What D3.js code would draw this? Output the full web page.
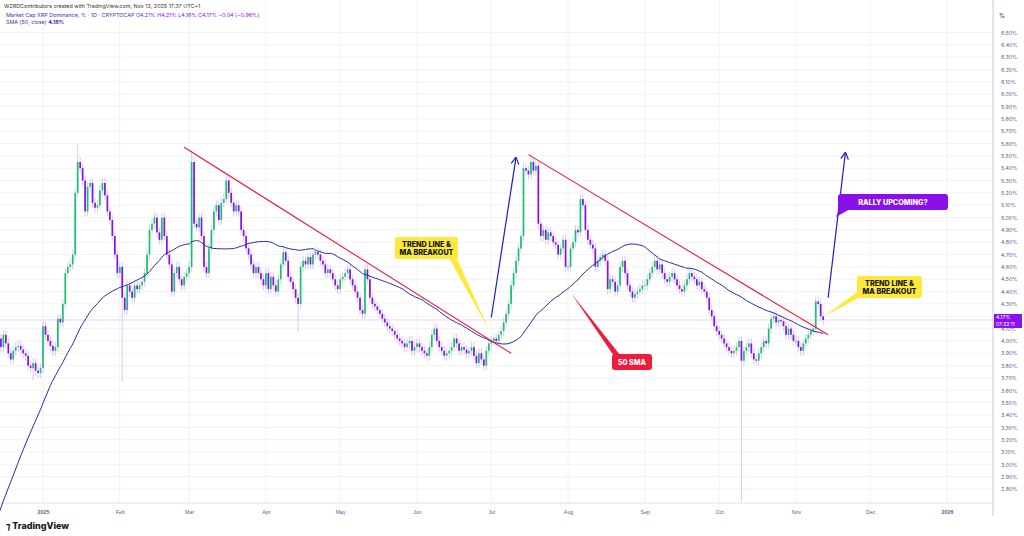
<!DOCTYPE html>
<html><head><meta charset="utf-8">
<script src="https://cdn.jsdelivr.net/npm/d3@7"></script>
<style>body{margin:0;background:#fff;font-family:Inter,"Noto Sans",sans-serif}</style>
</head><body><svg id="c" width="1024" height="536"></svg>
<script>
// ---- DATA ----
const startDate = "2024-12-14";
// 49 closes before startDate (seed for SMA 50)
const seedCloses = [1.28,1.30,1.27,1.32,1.30,1.33,1.35,1.32,1.36,1.38,1.42,1.40,1.45,1.48,1.50,1.47,1.52,1.55,1.58,1.62,1.60,
  1.90,2.10,2.25,2.40,2.55,2.50,2.70,2.85,2.95,3.10,3.20,3.35,3.45,3.60,3.55,3.70,3.85,3.95,4.10,4.05,
  4.20,4.30,4.40,4.35,4.25,4.15,4.10,4.05];
const closesDec = [4.02,3.95,4.05,3.98,3.90,3.85,3.92,3.95,3.96,3.93,3.90,3.88,3.80,3.78,3.82,3.76,3.74,3.78];
const closesJan = [4.12,4.05,4.00,3.96,3.92,3.95,4.18,4.15,4.30,4.55,4.60,4.62,4.70,5.20,5.45,5.40,5.30,5.05,5.25,5.28,5.12,5.08,5.10,5.22,5.28,5.18,5.05,4.98,4.85,4.70,4.55];
const closesFeb = [4.60,4.35,4.25,4.45,4.40,4.35,4.45,4.42,4.45,4.48,4.55,4.70,4.90,4.95,5.00,4.88,4.82,5.00,4.85,4.70,4.62,4.40,4.55,4.60,4.50,4.45,4.52,4.55];
const closesMar = [4.60,5.45,4.95,4.92,5.00,4.85,4.60,4.55,4.75,4.90,5.05,5.10,4.98,5.12,5.15,5.30,5.20,5.12,5.05,5.10,5.05,4.90,4.85,4.75,4.70,4.62,4.55,4.60,4.55,4.50,4.45];
const closesApr = [4.55,4.42,4.52,4.45,4.40,4.50,4.62,4.72,4.65,4.52,4.48,4.42,4.35,4.30,4.60,4.65,4.62,4.68,4.62,4.70,4.72,4.70,4.65,4.62,4.55,4.58,4.55,4.50,4.45,4.42];
const closesMay = [4.50,4.52,4.55,4.58,4.50,4.45,4.40,4.35,4.25,4.22,4.58,4.50,4.35,4.30,4.28,4.25,4.22,4.18,4.15,4.12,4.10,4.08,4.05,4.02,4.00,3.98,3.95,3.98,4.00,3.92,3.95];
const closesJun = [3.98,3.95,3.92,3.90,3.88,3.95,4.05,4.10,4.00,3.95,3.92,3.88,3.90,3.92,3.95,4.02,3.98,3.92,3.95,3.93,3.90,3.92,3.95,3.88,3.82,3.90,3.85,3.80,3.92,3.98];
const closesJul = [4.00,4.02,4.00,4.05,4.08,4.15,4.22,4.30,4.45,4.55,4.65,4.75,4.85,5.40,5.38,5.35,5.45,5.38,5.42,4.95,4.85,4.90,4.82,4.88,4.85,4.80,4.78,4.70,4.75,4.82,4.60];
const closesAug = [4.60,4.75,4.80,4.90,4.88,5.15,5.10,4.90,4.82,4.78,4.75,4.60,4.65,4.68,4.70,4.65,4.42,4.50,4.48,4.40,4.45,4.60,4.65,4.55,4.45,4.40,4.35,4.38,4.40,4.42,4.45];
const closesSep = [4.45,4.50,4.55,4.60,4.65,4.58,4.62,4.55,4.50,4.48,4.52,4.55,4.50,4.45,4.42,4.40,4.45,4.50,4.55,4.52,4.50,4.45,4.48,4.42,4.40,4.35,4.25,4.20,4.12,4.08];
const closesOct = [4.05,4.02,3.98,3.95,3.92,3.90,3.92,3.95,4.00,3.84,3.92,3.95,3.98,3.90,3.85,3.84,3.90,3.95,4.00,3.98,4.10,4.18,4.20,4.15,4.17,4.16,4.12,4.05,4.10,4.05,4.00];
const closesNov = [4.00,3.95,3.92,3.98,4.02,4.05,4.08,4.10,4.32,4.30,4.20,4.17];
const wickExtremes = [
  {date:"2025-01-15", high:5.59},{date:"2025-02-02", low:3.67},{date:"2025-03-02", high:5.55},
  {date:"2025-04-14", low:4.07},{date:"2025-07-17", high:5.52},{date:"2025-10-10", low:2.70},
  {date:"2024-12-28", low:3.68},{date:"2025-06-28", low:3.76}];
const yTicks = d3.range(28,66).map(v=>v/10);
const monthTicks = [["2025-01-01","2025"],["2025-02-01","Feb"],["2025-03-01","Mar"],["2025-04-01","Apr"],["2025-05-01","May"],["2025-06-01","Jun"],["2025-07-01","Jul"],["2025-08-01","Aug"],["2025-09-01","Sep"],["2025-10-01","Oct"],["2025-11-01","Nov"],["2025-12-01","Dec"],["2026-01-01","2026"]];
const trendLines = [[["2025-02-27",5.57],["2025-07-09",3.90]],[["2025-07-16",5.51],["2025-11-14",4.05]]];
const arrows = [[["2025-07-01",4.19],["2025-07-11",5.49]],[["2025-11-14",4.35],["2025-11-21",5.53]]];
const lastPrice = 4.17;

// ---- BUILD ----
const closes = [].concat(closesDec,closesJan,closesFeb,closesMar,closesApr,closesMay,closesJun,closesJul,closesAug,closesSep,closesOct,closesNov);
const all = seedCloses.concat(closes);
const t0 = new Date(startDate+"T00:00:00Z");
const day = 864e5;
const wmap = {}; wickExtremes.forEach(w=>wmap[w.date]=w);
const bars = closes.map((c,i)=>{
  const d = new Date(+t0+i*day);
  const o = all[seedCloses.length+i-1];
  const k = d.toISOString().slice(0,10);
  let h = Math.max(o,c)+0.04, l = Math.min(o,c)-0.04;
  if (wmap[k]&&wmap[k].high) h = wmap[k].high;
  if (wmap[k]&&wmap[k].low) l = wmap[k].low;
  const j = seedCloses.length+i;
  const sma = d3.mean(all.slice(j-49,j+1));
  return {d,o,h,l,c,sma};
});

const svg = d3.select("#c");
const x = d3.scaleUtc().domain([new Date("2025-01-01"),new Date("2026-01-01")]).range([43,947]);
const y = d3.scaleLinear().domain([2.8,6.5]).range([489,32.5]);
const P = s=>new Date(s+"T00:00:00Z");
const plotR = 993, plotB = 503;

svg.append("g").selectAll("line").data(yTicks).join("line")
  .attr("x1",0).attr("x2",plotR).attr("y1",d=>y(d)).attr("y2",d=>y(d)).attr("stroke","#f1f2f6");
svg.append("g").selectAll("line").data(monthTicks).join("line")
  .attr("x1",d=>x(P(d[0]))).attr("x2",d=>x(P(d[0]))).attr("y1",0).attr("y2",plotB).attr("stroke","#f1f2f6");
svg.append("line").attr("x1",plotR).attr("x2",plotR).attr("y1",0).attr("y2",516).attr("stroke","#c8cad8");
svg.append("line").attr("x1",0).attr("x2",plotR).attr("y1",plotB).attr("y2",plotB).attr("stroke","#dfe1ea");
svg.append("line").attr("x1",0).attr("x2",plotR).attr("y1",y(lastPrice)).attr("y2",y(lastPrice)).attr("stroke","#e2c8f5").attr("stroke-width",0.8);

const visTicks = yTicks.filter(v=>Math.abs(v-lastPrice)>0.06);
const ax = svg.append("g").attr("transform",`translate(${plotR},0)`).call(d3.axisRight(y).tickValues(visTicks).tickSize(0).tickFormat(d=>d.toFixed(2)+"%"));
ax.select(".domain").remove();
ax.selectAll("text").attr("x",8).attr("font-size",5.3).attr("fill","#5c6094").attr("font-family","Inter,sans-serif");
svg.append("text").attr("x",999).attr("y",18).attr("font-size",6).attr("fill","#333").text("%");
const bx = svg.append("g").attr("transform",`translate(0,${plotB})`).call(d3.axisBottom(x).tickValues(monthTicks.map(m=>P(m[0]))).tickSize(0).tickFormat((d,i)=>monthTicks[i][1]));
bx.select(".domain").remove();
bx.selectAll("text").attr("y",7).attr("font-size",5.3).attr("fill","#5c6094").attr("font-weight",(d,i)=>monthTicks[i][1].length===4?"700":"400");

const green="#13c46a", purple="#8410ec";
const cg = svg.append("g");
const cx = d=>x(new Date(+d.d+day/2)) - 2.477/2;
cg.selectAll("line").data(bars).join("line")
  .attr("x1",cx).attr("x2",cx).attr("y1",d=>y(d.h)).attr("y2",d=>y(d.l))
  .attr("stroke","#cdb2ee").attr("stroke-width",0.7);
cg.selectAll("rect").data(bars).join("rect")
  .attr("x",d=>cx(d)-0.85).attr("width",1.7)
  .attr("y",d=>y(Math.max(d.o,d.c))).attr("height",d=>Math.max(0.8,Math.abs(y(d.o)-y(d.c))))
  .attr("fill",d=>d.c>=d.o?green:purple);
svg.append("path").datum(bars).attr("fill","none").attr("stroke","#2a2aa5").attr("stroke-width",1)
  .attr("d",d3.line().x(cx).y(d=>y(d.sma)).curve(d3.curveMonotoneX));

trendLines.forEach(t=>svg.append("line").attr("x1",x(P(t[0][0]))).attr("y1",y(t[0][1])).attr("x2",x(P(t[1][0]))).attr("y2",y(t[1][1])).attr("stroke","#ec1a40").attr("stroke-width",1.1));
arrows.forEach(a=>{
  const x1=x(P(a[0][0])),y1=y(a[0][1]),x2=x(P(a[1][0])),y2=y(a[1][1]);
  svg.append("line").attr("x1",x1).attr("y1",y1).attr("x2",x2).attr("y2",y2).attr("stroke","#1d1fc8").attr("stroke-width",1.2);
  const ang=Math.atan2(y2-y1,x2-x1), L=8;
  [-0.5,0.5].forEach(s=>svg.append("line").attr("x1",x2).attr("y1",y2)
    .attr("x2",x2-L*Math.cos(ang+s)).attr("y2",y2-L*Math.sin(ang+s)).attr("stroke","#1d1fc8").attr("stroke-width",1.2));
});

function callout(bx,by,w,h,fill,txtColor,lines,tip,base){
  svg.append("path").attr("d",`M${base[0]},${base[1]}L${tip[0]},${tip[1]}L${base[2]},${base[3]}Z`).attr("fill",fill);
  svg.append("rect").attr("x",bx).attr("y",by).attr("width",w).attr("height",h).attr("rx",3).attr("fill",fill);
  lines.forEach((t,i)=>svg.append("text").attr("x",bx+w/2).attr("y",by+h/2+(i-(lines.length-1)/2)*8+2.5)
    .attr("text-anchor","middle").attr("font-size",7.2).attr("font-weight",800).attr("fill",txtColor).text(t));
}
callout(395,237,63,22,"#fde93b","#111",["TREND LINE &","MA BREAKOUT"],[489,330],[448,256,455,254]);
callout(612,354,40,16,"#ed1c3a","#fff",["50 SMA"],[571,293],[614,356,620,355]);
callout(838,194,110,16,"#8a0fe8","#fff",["RALLY UPCOMING?"],[836,217],[842,202,850,209]);
callout(857,276,65,22,"#fde93b","#111",["TREND LINE &","MA BREAKOUT"],[823,317],[860,290,862,296]);

svg.append("rect").attr("x",994).attr("y",y(lastPrice)-6).attr("width",28).attr("height",14).attr("fill","#8a10f0");
svg.append("text").attr("x",996).attr("y",y(lastPrice)-0.5).attr("font-size",5.3).attr("fill","#fff").text("4.17%");
svg.append("text").attr("x",996).attr("y",y(lastPrice)+6).attr("font-size",5).attr("fill","#fff").text("07:22:11");

svg.append("text").attr("x",4).attr("y",8).attr("font-size",5.4).attr("fill","#333").text("WZRDContributors created with TradingView.com, Nov 12, 2025 17:37 UTC+1");
const h2 = svg.append("text").attr("x",6).attr("y",17).attr("font-size",5.4).attr("fill","#3a3ab0");
h2.append("tspan").text("Market Cap XRP Dominance, % · 1D · CRYPTOCAP  ");
h2.append("tspan").attr("fill","#8a10f0").text("O4.21%  H4.21%  L4.16%  C4.17%  −0.04 (−0.96%)");
const h3 = svg.append("text").attr("x",6).attr("y",24).attr("font-size",5.4).attr("fill","#3a3ab0");
h3.append("tspan").text("SMA (50, close)  ");
h3.append("tspan").attr("fill","#2a2aa5").attr("font-weight",700).text("4.18%");
svg.append("text").attr("x",6).attr("y",529).attr("font-size",9).attr("font-weight",800).attr("fill","#131722").text("⁊ TradingView");
</script></body></html>
